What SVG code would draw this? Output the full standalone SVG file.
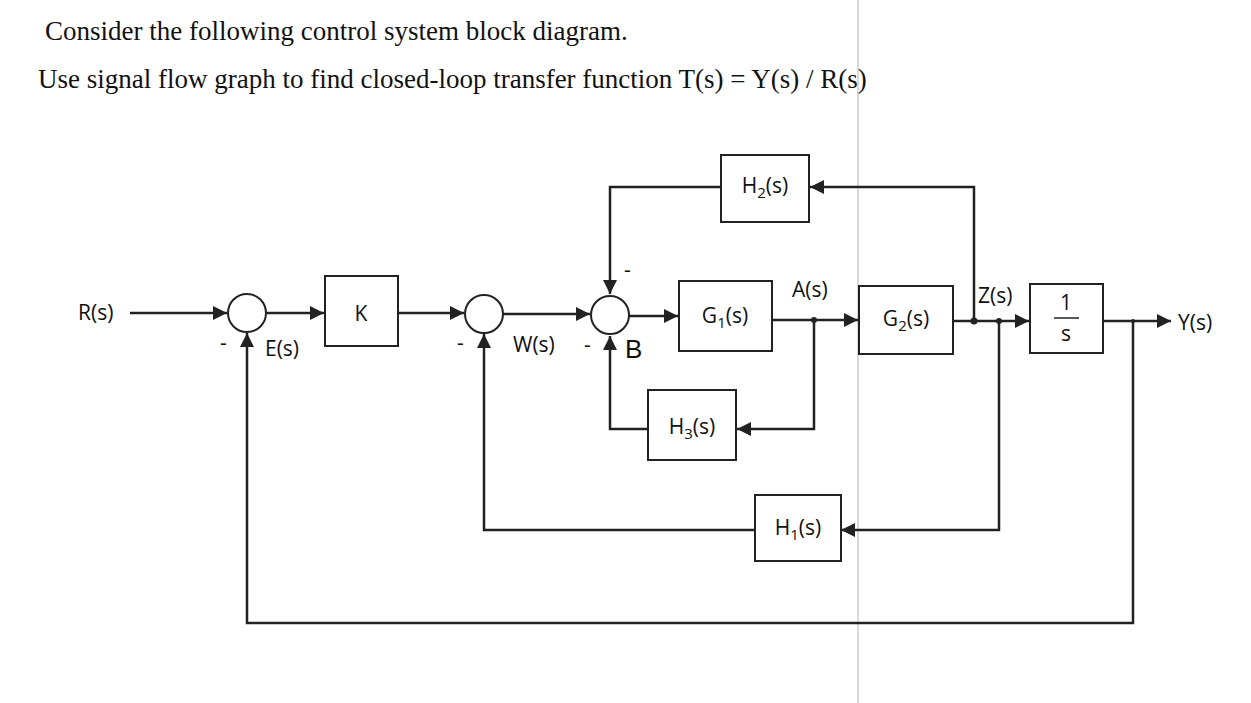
<svg xmlns="http://www.w3.org/2000/svg" width="1251" height="703" viewBox="0 0 1251 703">
<defs>
<marker id="ar" viewBox="0 0 10 10" refX="10" refY="5" markerWidth="14" markerHeight="14" markerUnits="userSpaceOnUse" orient="auto"><path d="M0,0 L10,5 L0,10 z" fill="#222"/></marker>
<style>
.t{font-family:"Liberation Serif",serif;font-size:27px;fill:#111}
.l{font-family:"Open Sans","DejaVu Sans",sans-serif;font-size:21px;fill:#111}
.b{fill:#fff;stroke:#222;stroke-width:2}
.w{fill:none;stroke:#222;stroke-width:2.5}
</style>
</defs>
<rect width="1251" height="703" fill="#fff"/>
<line x1="858" y1="0" x2="858" y2="703" stroke="#ccc" stroke-width="1.5"/>
<text class="t" x="45" y="40">Consider the following control system block diagram.</text>
<text class="t" x="38" y="88">Use signal flow graph to find closed-loop transfer function T(s) = Y(s) / R(s)</text>
<g id="connectors" class="w">
<path d="M130,313 H227" marker-end="url(#ar)"/>
<path d="M266,313 H324" marker-end="url(#ar)"/>
<path d="M398,313 H464" marker-end="url(#ar)"/>
<path d="M503,314 H590" marker-end="url(#ar)"/>
<path d="M629,316 H678" marker-end="url(#ar)"/>
<path d="M772,320 H858" marker-end="url(#ar)"/>
<path d="M953,321 H1029" marker-end="url(#ar)"/>
<path d="M1103,321 H1171" marker-end="url(#ar)"/>
<path d="M974,321 V187 H810" marker-end="url(#ar)"/>
<path d="M721,187 H610 V294" marker-end="url(#ar)"/>
<path d="M814,320 V429 H737" marker-end="url(#ar)"/>
<path d="M648,429 H610 V336" marker-end="url(#ar)"/>
<path d="M999,321 V530 H841" marker-end="url(#ar)"/>
<path d="M755,530 H484 V334" marker-end="url(#ar)"/>
<path d="M1133,321 V623 H247 V333" marker-end="url(#ar)"/>
</g>
<g fill="#222"><circle cx="814" cy="320" r="3"/><circle cx="974" cy="321" r="3.5"/><circle cx="999" cy="321" r="3"/><circle cx="1133" cy="321" r="2"/></g>
<g id="sum1"><circle class="b" cx="247" cy="313" r="19"/></g>
<g id="sum2"><circle class="b" cx="484" cy="314" r="19"/></g>
<g id="sum3"><circle class="b" cx="610" cy="315" r="19"/></g>
<g id="K"><rect class="b" x="325" y="276" width="73" height="70"/><text class="l" x="361" y="321" text-anchor="middle" font-size="23">K</text></g>
<g id="G1"><rect class="b" x="679" y="281" width="93" height="70"/><text class="l" x="725" y="323" text-anchor="middle">G<tspan font-size="15" dy="5">1</tspan><tspan dy="-5">(s)</tspan></text></g>
<g id="G2"><rect class="b" x="859" y="286" width="94" height="68"/><text class="l" x="906" y="326" text-anchor="middle">G<tspan font-size="15" dy="5">2</tspan><tspan dy="-5">(s)</tspan></text></g>
<g id="inv"><rect class="b" x="1030" y="284" width="73" height="69"/><text class="l" x="1066" y="310" text-anchor="middle">1</text><line x1="1054" y1="318" x2="1079" y2="318" stroke="#222" stroke-width="1.5"/><text class="l" x="1066" y="341" text-anchor="middle">s</text></g>
<g id="H2"><rect class="b" x="721" y="155" width="88" height="67"/><text class="l" x="765" y="193" text-anchor="middle">H<tspan font-size="15" dy="5">2</tspan><tspan dy="-5">(s)</tspan></text></g>
<g id="H3"><rect class="b" x="648" y="390" width="88" height="70"/><text class="l" x="692" y="434" text-anchor="middle">H<tspan font-size="15" dy="5">3</tspan><tspan dy="-5">(s)</tspan></text></g>
<g id="H1"><rect class="b" x="755" y="495" width="86" height="66"/><text class="l" x="798" y="535" text-anchor="middle">H<tspan font-size="15" dy="5">1</tspan><tspan dy="-5">(s)</tspan></text></g>
<g class="l">
<text x="78" y="320">R(s)</text>
<text x="1178" y="330">Y(s)</text>
<text x="265" y="356">E(s)</text>
<text x="513" y="352">W(s)</text>
<text x="625" y="358" font-family="Liberation Sans,sans-serif" font-size="26">B</text>
<text x="792" y="297">A(s)</text>
<text x="978" y="303">Z(s)</text>
<text x="220" y="350">-</text><text x="457" y="350">-</text><text x="584" y="352">-</text><text x="624" y="277">-</text>
</g>
</svg>
